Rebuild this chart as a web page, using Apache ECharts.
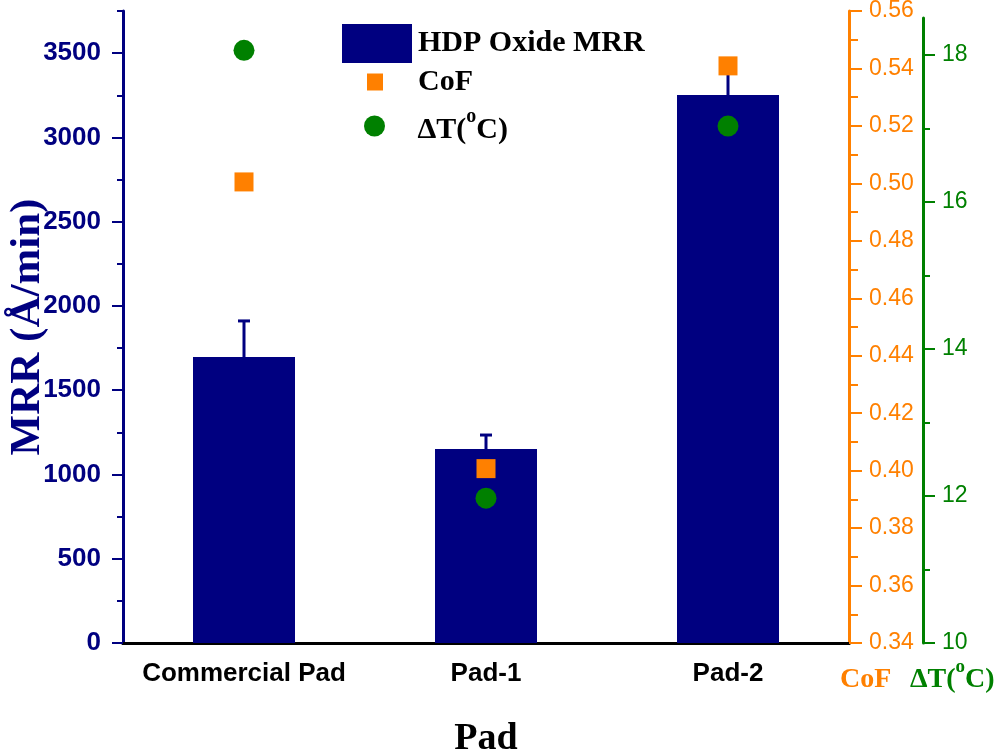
<!DOCTYPE html>
<html>
<head>
<meta charset="utf-8">
<script src="https://cdn.jsdelivr.net/npm/echarts@6/dist/echarts.min.js"></script>
<style>
  html, body { margin: 0; padding: 0; background: #fff; }
  #chart { width: 1000px; height: 754px; }
</style>
</head>
<body>
<div id="chart"></div>
<script>
// data
var pads = ['Commercial Pad', 'Pad-1', 'Pad-2'];
var mrr = [1697, 1151, 3251];
var mrrErrTop = [1911, 1234, 3390];
var cof = [0.5005, 0.4007, 0.5409];
var deltaT = [18.06, 11.97, 17.03];

// tick values
var mrrTicks = [0, 500, 1000, 1500, 2000, 2500, 3000, 3500];
var mrrMinorTicks = [250, 750, 1250, 1750, 2250, 2750, 3250, 3750];
var dtTicks = [10, 12, 14, 16, 18];
var dtMinorTicks = [11, 13, 15, 17];

var NAVY = '#000080';
var ORANGE = '#FF8000';
var GREEN = '#008000';
var SERIF = "'Liberation Serif', 'Times New Roman', serif";
var SANS = "'Liberation Sans', Arial, sans-serif";

var errData = pads.map(function (p, i) {
    return [i, mrr[i], mrrErrTop[i]];
});

var option = {
    backgroundColor: '#fff',
    animation: false,
    grid: [
        { left: 123, right: 151, top: 11, bottom: 111, containLabel: false, outerBoundsMode: 'none' },
        { left: 123, right: 151, top: 18, bottom: 111, containLabel: false, outerBoundsMode: 'none' }
    ],
    legend: [
        {
            data: [{ name: 'HDP Oxide MRR', icon: 'rect' }],
            left: 342, top: 24, padding: 0,
            itemWidth: 70, itemHeight: 39,
            textStyle: { fontFamily: SERIF, fontWeight: 'bold', fontSize: 30, color: '#000', padding: [0, 0, 0, 1] }
        },
        {
            data: [{ name: 'CoF', icon: 'rect' }],
            left: 367, top: 67, padding: 0,
            itemWidth: 16, itemHeight: 17,
            textStyle: { fontFamily: SERIF, fontWeight: 'bold', fontSize: 30, color: '#000', padding: [0, 0, 0, 30] }
        },
        {
            data: [{ name: 'ΔT(°C)', icon: 'circle' }],
            left: 364, top: 107, padding: 0,
            itemWidth: 22, itemHeight: 21,
            formatter: function () { return '{a|ΔT(}{sup|o}{a|C)}'; },
            textStyle: {
                padding: [0, 0, 0, 27],
                rich: {
                    a: { fontFamily: SERIF, fontWeight: 'bold', fontSize: 30, color: '#000', lineHeight: 38, verticalAlign: 'bottom' },
                    sup: { fontFamily: SERIF, fontWeight: 'bold', fontSize: 20, color: '#000', lineHeight: 20, verticalAlign: 'top' }
                }
            }
        }
    ],
    xAxis: [
        {
            type: 'category', gridIndex: 0, position: 'bottom', data: pads,
            axisLine: { lineStyle: { color: '#000', width: 3 } },
            axisTick: { alignWithLabel: true, length: 12, lineStyle: { color: '#000', width: 2 } },
            axisLabel: { interval: 0, hideOverlap: false, fontFamily: SANS, fontWeight: 'bold', fontSize: 26, color: '#000', margin: 18 },
            name: 'Pad', nameLocation: 'middle', nameGap: 77, nameMoveOverlap: false,
            nameTextStyle: { fontFamily: SERIF, fontWeight: 'bold', fontSize: 38, color: '#000' }
        },
        {
            type: 'category', gridIndex: 0, position: 'top', data: pads,
            axisLine: { lineStyle: { color: '#000', width: 3 } },
            axisTick: { show: false }, axisLabel: { show: false }
        },
        {
            type: 'category', gridIndex: 1, data: pads, show: false
        }
    ],
    yAxis: [
        {
            type: 'value', gridIndex: 0, position: 'left', min: 0, max: 3750,
            axisLine: { show: true, lineStyle: { color: NAVY, width: 3 } },
            axisTick: { show: true, length: 11, customValues: mrrTicks, lineStyle: { color: NAVY, width: 2 } },
            axisLabel: {
                customValues: mrrTicks, fontFamily: SANS, fontWeight: 'bold', fontSize: 26, color: NAVY, margin: 22,
                formatter: function (v) { return String(v); }
            },
            splitLine: { show: false },
            name: 'MRR (Å/min)', nameLocation: 'middle', nameGap: 74, nameMoveOverlap: false,
            nameTextStyle: { fontFamily: SERIF, fontWeight: 'bold', fontSize: 43, color: NAVY }
        },
        {
            type: 'value', gridIndex: 0, position: 'left', min: 0, max: 3750,
            axisLine: { show: false },
            axisTick: { show: true, length: 6, customValues: mrrMinorTicks, lineStyle: { color: NAVY, width: 2 } },
            axisLabel: { show: false },
            splitLine: { show: false }
        },
        {
            type: 'value', gridIndex: 0, position: 'right', min: 0.34, max: 0.56, interval: 0.02,
            axisLine: { show: true, lineStyle: { color: ORANGE, width: 3 } },
            axisTick: { show: true, length: 13, lineStyle: { color: ORANGE, width: 2 } },
            minorTick: { show: true, splitNumber: 2, length: 9, lineStyle: { color: ORANGE, width: 2 } },
            axisLabel: {
                fontFamily: SANS, fontSize: 23, color: ORANGE, margin: 20,
                formatter: function (v) { return v.toFixed(2); }
            },
            splitLine: { show: false }
        },
        {
            type: 'value', gridIndex: 1, position: 'right', offset: 74, min: 10, max: 18.5,
            axisLine: { show: true, lineStyle: { color: GREEN, width: 3 } },
            axisTick: { show: true, length: 12, customValues: dtTicks, lineStyle: { color: GREEN, width: 2 } },
            axisLabel: {
                customValues: dtTicks, fontFamily: SANS, fontSize: 23, color: GREEN, margin: 19,
                formatter: function (v) { return String(v); }
            },
            splitLine: { show: false }
        },
        {
            type: 'value', gridIndex: 1, position: 'right', offset: 74, min: 10, max: 18.5,
            axisLine: { show: false },
            axisTick: { show: true, length: 7, customValues: dtMinorTicks, lineStyle: { color: GREEN, width: 2 } },
            axisLabel: { show: false },
            splitLine: { show: false }
        }
    ],
    graphic: [
        {
            type: 'text', left: 840, top: 666,
            style: { text: 'CoF', fontFamily: SERIF, fontWeight: 'bold', fontSize: 28, fill: ORANGE }
        },
        {
            type: 'text', left: 910, top: 658,
            style: {
                text: '{a|ΔT(}{sup|o}{a|C)}',
                rich: {
                    a: { fontFamily: SERIF, fontWeight: 'bold', fontSize: 28, fill: GREEN, lineHeight: 36, verticalAlign: 'bottom' },
                    sup: { fontFamily: SERIF, fontWeight: 'bold', fontSize: 19, fill: GREEN, lineHeight: 19, verticalAlign: 'top' }
                }
            }
        }
    ],
    series: [
        {
            name: 'HDP Oxide MRR', type: 'bar', xAxisIndex: 0, yAxisIndex: 0,
            data: mrr, barWidth: 102, z: 2,
            itemStyle: { color: NAVY, borderRadius: 0 }
        },
        {
            name: 'err', type: 'custom', xAxisIndex: 0, yAxisIndex: 0, z: 3,
            data: errData,
            renderItem: function (params, api) {
                var base = api.coord([api.value(0), api.value(1)]);
                var top = api.coord([api.value(0), api.value(2)]);
                var style = { stroke: NAVY, lineWidth: 3 };
                return {
                    type: 'group',
                    children: [
                        { type: 'line', shape: { x1: base[0], y1: base[1], x2: top[0], y2: top[1] }, style: style },
                        { type: 'line', shape: { x1: top[0] - 6, y1: top[1], x2: top[0] + 6, y2: top[1] }, style: style }
                    ]
                };
            }
        },
        {
            name: 'CoF', type: 'scatter', xAxisIndex: 0, yAxisIndex: 2, z: 5,
            data: cof, symbol: 'rect', symbolSize: 19,
            itemStyle: { color: ORANGE, opacity: 1 }
        },
        {
            name: 'ΔT(°C)', type: 'scatter', xAxisIndex: 2, yAxisIndex: 3, z: 5,
            data: deltaT, symbol: 'circle', symbolSize: 21,
            itemStyle: { color: GREEN, opacity: 1 }
        }
    ]
};

var chart = echarts.init(document.getElementById('chart'));
chart.setOption(option);
</script>
</body>
</html>
